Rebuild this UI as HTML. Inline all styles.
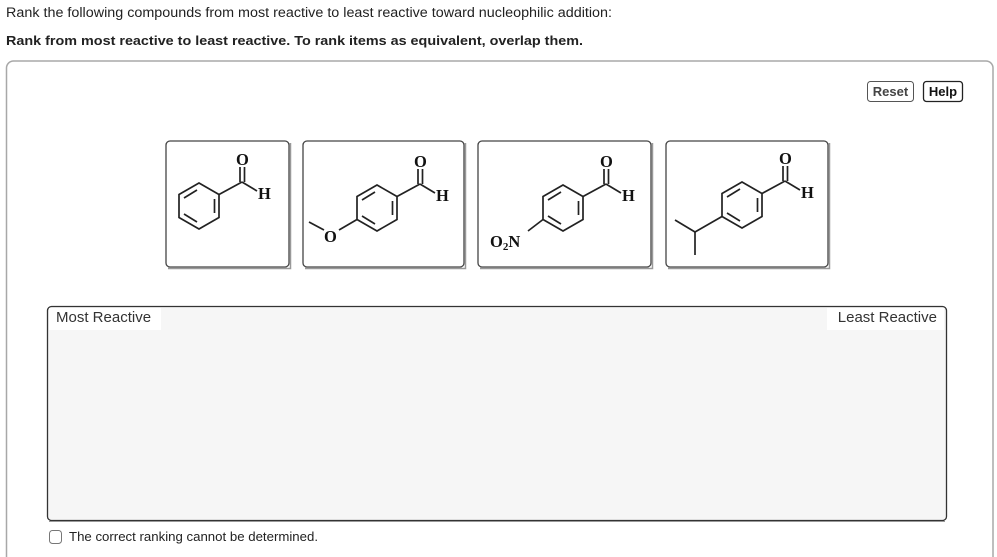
<!DOCTYPE html>
<html><head><meta charset="utf-8"><style>
html,body{margin:0;padding:0;background:#fff;}
svg{display:block;}
text{font-family:"Liberation Sans",sans-serif;}
.m{font-family:"Liberation Serif",serif;font-size:16.5px;font-weight:bold;fill:#111;}
</style></head><body>
<svg width="997" height="557" viewBox="0 0 997 557" xmlns="http://www.w3.org/2000/svg">
<text x="6" y="17" font-size="13.5" fill="#222" textLength="606" lengthAdjust="spacingAndGlyphs">Rank the following compounds from most reactive to least reactive toward nucleophilic addition:</text>
<text x="6" y="45" font-size="13" font-weight="bold" fill="#222" textLength="577" lengthAdjust="spacingAndGlyphs">Rank from most reactive to least reactive. To rank items as equivalent, overlap them.</text>
<path d="M6.5 565 V68 a7 7 0 0 1 7 -7 H986 a7 7 0 0 1 7 7 V565" fill="#fff" stroke="#a8a8a8" stroke-width="1.5"/>
<!-- buttons -->
<rect x="867.5" y="81.5" width="46" height="20" rx="3" fill="#fff" stroke="#555"/>
<text x="890.5" y="96" font-size="13" font-weight="bold" fill="#444" text-anchor="middle">Reset</text>
<rect x="923.5" y="81.5" width="39" height="20" rx="3" fill="#fff" stroke="#222" stroke-width="1.3"/>
<text x="943" y="96" font-size="13" font-weight="bold" fill="#111" text-anchor="middle">Help</text>
<!-- boxes -->
<g fill="#fff" stroke="#444" stroke-width="1.3">
<rect x="166" y="141" width="123" height="126" rx="4"/>
<rect x="303" y="141" width="161" height="126" rx="4"/>
<rect x="478" y="141" width="173" height="126" rx="4"/>
<rect x="666" y="141" width="162" height="126" rx="4"/>
</g>
<g fill="none" stroke="#999" stroke-width="1.5">
<path d="M168 268.5 H290.5 V143"/><path d="M305 268.5 H465.5 V143"/><path d="M480 268.5 H652.5 V143"/><path d="M668 268.5 H829.5 V143"/>
</g>
<defs>
<g id="ring" fill="none" stroke="#222" stroke-width="1.7">
<polygon points="0,-23 20,-11.5 20,11.5 0,23 -20,11.5 -20,-11.5"/>
<line x1="-15" y1="-8" x2="-2" y2="-16"/>
<line x1="15.5" y1="-7" x2="15.5" y2="7"/>
<line x1="-2" y1="16" x2="-15" y2="8"/>
<line x1="20" y1="-11.5" x2="43" y2="-24"/>
<line x1="43" y1="-24" x2="58" y2="-15"/>
<line x1="41" y1="-24" x2="41" y2="-39"/>
<line x1="45.5" y1="-24" x2="45.5" y2="-39"/>
</g>
</defs>
<g transform="translate(199,206)"><use href="#ring"/>
<text class="m" x="37" y="-41">O</text><text class="m" x="59" y="-7">H</text></g>
<g transform="translate(377,208)"><use href="#ring"/>
<text class="m" x="37" y="-41">O</text><text class="m" x="59" y="-7">H</text>
<g stroke="#222" stroke-width="1.7"><line x1="-20" y1="11.5" x2="-38" y2="22"/><line x1="-53" y1="22" x2="-68" y2="14"/></g>
<text class="m" x="-53" y="34">O</text></g>
<g transform="translate(563,208)"><use href="#ring"/>
<text class="m" x="37" y="-41">O</text><text class="m" x="59" y="-7">H</text>
<g stroke="#222" stroke-width="1.7"><line x1="-20" y1="11.5" x2="-35" y2="23"/></g>
<text class="m" x="-73" y="39">O<tspan font-size="11" dy="3">2</tspan><tspan dy="-3">N</tspan></text></g>
<g transform="translate(742,205)"><use href="#ring"/>
<text class="m" x="37" y="-41">O</text><text class="m" x="59" y="-7">H</text>
<g stroke="#222" stroke-width="1.7" fill="none"><polyline points="-20,11.5 -47,27 -67,15"/><line x1="-47" y1="27" x2="-47" y2="50"/></g></g>
<!-- ranking area -->
<rect x="47.5" y="306.5" width="899" height="214" rx="4" fill="#f6f6f6" stroke="#333" stroke-width="1.3"/>
<line x1="49" y1="521.5" x2="945" y2="521.5" stroke="#999"/>
<rect x="49" y="308" width="112" height="22" fill="#fff"/>
<text x="56" y="322" font-size="15" fill="#333">Most Reactive</text>
<rect x="827" y="308" width="117" height="22" fill="#fff"/>
<text x="937" y="322" font-size="15" fill="#333" text-anchor="end">Least Reactive</text>
<rect x="49.5" y="530.5" width="12" height="13" rx="3" fill="#fff" stroke="#777"/>
<text x="69" y="541" font-size="13" fill="#222" textLength="249" lengthAdjust="spacingAndGlyphs">The correct ranking cannot be determined.</text>
</svg>
</body></html>
